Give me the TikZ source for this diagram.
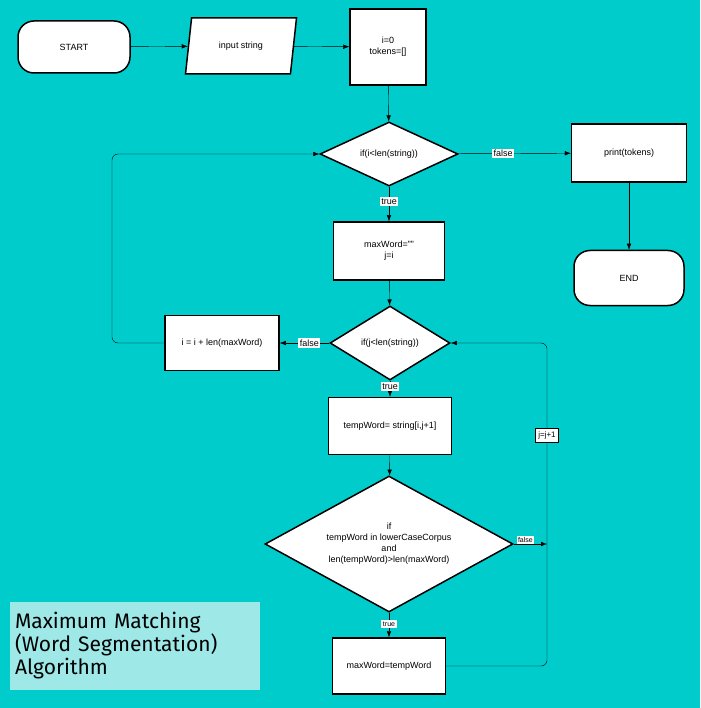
\documentclass[tikz,border=0pt]{standalone}
\usepackage{fontspec}
\setmainfont{Liberation Sans}
\newfontfamily\titlefont{Fira Sans}
\usetikzlibrary{shapes.geometric, arrows.meta, positioning}
\definecolor{bgcyan}{HTML}{00CCCC}
\definecolor{titlecyan}{HTML}{9EE8E8}
\tikzset{
  box/.style={draw, line width=1.5pt, fill=white, align=center, font=\small, minimum height=56pt},
  term/.style={box, rounded corners=16pt, minimum width=112pt, minimum height=52pt},
  cond/.style={draw, line width=1.5pt, fill=white, diamond, aspect=2.1, inner sep=0pt, align=center, font=\small},
  tag/.style={fill=white, inner sep=1.5pt, font=\small},
  flow/.style={-{Latex[length=6pt]}, thin},
}
\begin{document}
\begin{tikzpicture}[x=1pt, y=-1pt]
\useasboundingbox[fill=bgcyan] (0,0) rectangle (700,708);
\node[term] (start) at (74,47) {START};
\node[box, trapezium, trapezium left angle=68, trapezium right angle=112, minimum width=111pt, minimum height=56pt, trapezium stretches body] (input) at (241,46) {input string};
\node[box, minimum width=76pt, minimum height=76pt] (init) at (388,47) {i=0\\tokens=[]};
\node[cond, minimum width=138pt, minimum height=64pt] (outer) at (389,154) {if(i<len(string))};
\node[box, minimum width=115pt, minimum height=58pt] (print) at (629,153) {print(tokens)};
\node[term, minimum width=110pt, minimum height=55pt] (end) at (629,278) {END};
\node[box, minimum width=111pt, minimum height=58pt] (reset) at (389,251) {maxWord=""\\j=i};
\node[cond, minimum width=120pt, minimum height=74pt, aspect=1.6] (inner) at (390,343) {if(j<len(string))};
\node[box, minimum width=114pt, minimum height=55pt] (step) at (222,343) {i = i + len(maxWord)};
\node[box, minimum width=123pt, minimum height=57pt] (temp) at (390,426) {tempWord= string[i,j+1]};
\node[cond, minimum width=248pt, minimum height=136pt, aspect=1.8] (check) at (389,544) {if\\tempWord in lowerCaseCorpus\\and\\len(tempWord)>len(maxWord)};
\node[box, minimum width=113pt, minimum height=56pt] (keep) at (389,666) {maxWord=tempWord};
\node[fill=titlecyan, minimum width=250pt, minimum height=88pt, text width=240pt, align=left, font=\titlefont\fontsize{21}{23}\selectfont] (title) at (135,646) {Maximum Matching\\(Word Segmentation)\\Algorithm};
\coordinate (loopL) at (112,154);
\coordinate (loopR) at (547,343);
% main flow
\draw[flow] (start) -- (input);
\draw[flow] (input) -- (init);
\draw[flow] (init) -- (outer);
\draw[flow] (outer) -- node[tag, pos=0.4] {false} (print);
\draw[flow] (print) -- (end);
\draw[flow] (outer) -- node[tag, pos=0.42] {true} (reset);
\draw[flow] (reset) -- (inner);
\draw[flow] (inner) -- node[tag, pos=0.4] {false} (step);
\draw[flow, rounded corners=6pt] (step) -| (loopL) -- (outer);
\draw[flow] (inner) -- node[tag, pos=0.35] {true} (temp);
\draw[flow] (temp) -- (check);
\draw[flow] (check) -- node[tag, pos=0.45, font=\scriptsize] {true} (keep);
% inner loop
\draw[flow] (check.east) -- node[tag, pos=0.35, above, font=\scriptsize] {false} (check.east -| loopR);
\draw[flow, rounded corners=6pt] (keep) -| (loopR) -- (inner);
\node[tag, draw, inner sep=3pt, font=\footnotesize] (incr) at (547,435) {j=j+1};
\end{tikzpicture}
\end{document}
